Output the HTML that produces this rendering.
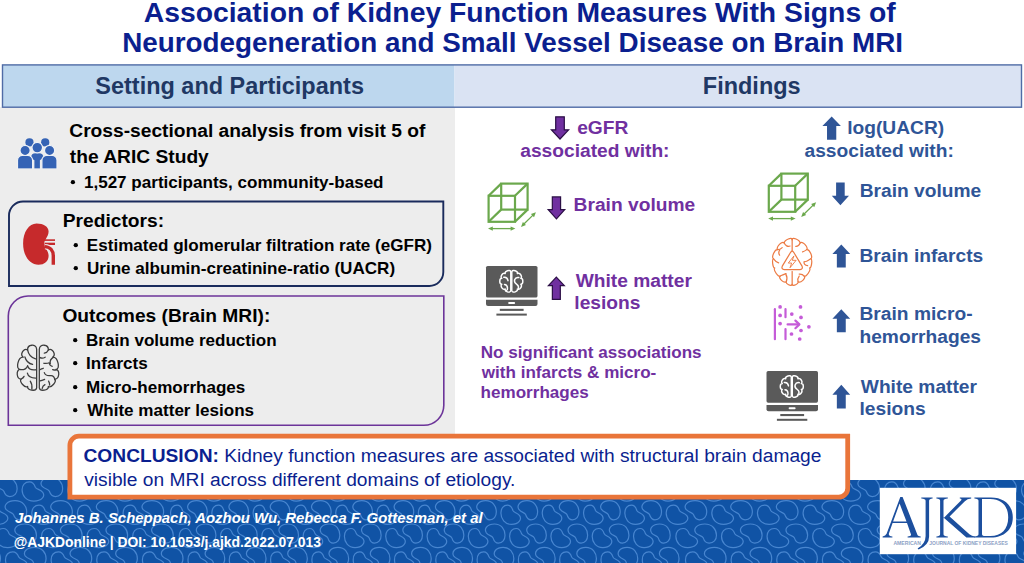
<!DOCTYPE html>
<html><head><meta charset="utf-8"><title>Visual abstract</title>
<style>
html,body{margin:0;padding:0;}
body{width:1024px;height:563px;position:relative;overflow:hidden;background:#fff;font-family:"Liberation Sans",sans-serif;}
.t{position:absolute;white-space:nowrap;line-height:1;font-family:"Liberation Sans",sans-serif;}
.box{position:absolute;box-sizing:border-box;}
#svg{position:absolute;left:0;top:0;}
</style></head><body>
<div class="box" style="left:0;top:107px;width:454.5px;height:373px;background:#ededed"></div>
<div class="box" style="left:0;top:480px;width:1024px;height:83px;background:#1053a5"></div>
<svg id="svg" width="1024" height="563" viewBox="0 0 1024 563">
<!-- footer pattern -->
<defs><path id="kb" d="M6.58,0.00 C10.05,0.00 11.20,2.66 12.01,5.31 C12.93,7.62 16.40,7.27 18.71,10.39 C21.25,14.20 17.78,19.17 10.62,19.17 C3.70,19.17 0.00,13.63 0.00,7.85 C0.00,3.23 2.54,0.00 6.58,0.00 Z" vector-effect="non-scaling-stroke"/><g id="kp"><use href="#kb"/><use href="#kb" transform="rotate(180 18.36 7.33)"/></g>
<clipPath id="fc"><rect x="0" y="480" width="1024" height="83"/></clipPath></defs>
<g clip-path="url(#fc)" fill="none" stroke="#4886d0" stroke-width="1.2">
<g transform="translate(31.8,0) scale(1.105,1)">
<use href="#kp" x="-50.0" y="481.9"/><use href="#kp" x="-8.8" y="481.9"/><use href="#kp" x="32.5" y="481.9"/><use href="#kp" x="73.8" y="481.9"/><use href="#kp" x="115.1" y="481.9"/>
<use href="#kp" x="-82.6" y="505.2"/><use href="#kp" x="-41.3" y="505.2"/><use href="#kp" x="0.0" y="505.2"/><use href="#kp" x="41.3" y="505.2"/><use href="#kp" x="82.6" y="505.2"/>
<use href="#kp" x="-73.8" y="528.5"/><use href="#kp" x="-32.5" y="528.5"/><use href="#kp" x="8.8" y="528.5"/><use href="#kp" x="50.0" y="528.5"/><use href="#kp" x="91.3" y="528.5"/>
<use href="#kp" x="-65.1" y="551.8"/><use href="#kp" x="-23.8" y="551.8"/><use href="#kp" x="17.5" y="551.8"/><use href="#kp" x="58.8" y="551.8"/><use href="#kp" x="100.1" y="551.8"/>
<use href="#kp" x="-56.3" y="575.1"/><use href="#kp" x="-15.0" y="575.1"/><use href="#kp" x="26.2" y="575.1"/><use href="#kp" x="67.5" y="575.1"/><use href="#kp" x="108.8" y="575.1"/>
</g>
<g transform="translate(5.3,0) scale(1.0,1)">
<use href="#kp" x="197.8" y="481.9"/><use href="#kp" x="239.0" y="481.9"/><use href="#kp" x="280.3" y="481.9"/><use href="#kp" x="321.6" y="481.9"/><use href="#kp" x="362.9" y="481.9"/><use href="#kp" x="404.2" y="481.9"/><use href="#kp" x="445.5" y="481.9"/><use href="#kp" x="486.8" y="481.9"/><use href="#kp" x="528.1" y="481.9"/><use href="#kp" x="569.4" y="481.9"/><use href="#kp" x="610.8" y="481.9"/><use href="#kp" x="652.0" y="481.9"/>
<use href="#kp" x="165.2" y="505.2"/><use href="#kp" x="206.5" y="505.2"/><use href="#kp" x="247.8" y="505.2"/><use href="#kp" x="289.1" y="505.2"/><use href="#kp" x="330.4" y="505.2"/><use href="#kp" x="371.7" y="505.2"/><use href="#kp" x="413.0" y="505.2"/><use href="#kp" x="454.3" y="505.2"/><use href="#kp" x="495.6" y="505.2"/><use href="#kp" x="536.9" y="505.2"/><use href="#kp" x="578.2" y="505.2"/><use href="#kp" x="619.5" y="505.2"/>
<use href="#kp" x="173.9" y="528.5"/><use href="#kp" x="215.2" y="528.5"/><use href="#kp" x="256.5" y="528.5"/><use href="#kp" x="297.8" y="528.5"/><use href="#kp" x="339.1" y="528.5"/><use href="#kp" x="380.4" y="528.5"/><use href="#kp" x="421.8" y="528.5"/><use href="#kp" x="463.0" y="528.5"/><use href="#kp" x="504.3" y="528.5"/><use href="#kp" x="545.6" y="528.5"/><use href="#kp" x="586.9" y="528.5"/><use href="#kp" x="628.2" y="528.5"/>
<use href="#kp" x="182.7" y="551.8"/><use href="#kp" x="224.0" y="551.8"/><use href="#kp" x="265.3" y="551.8"/><use href="#kp" x="306.6" y="551.8"/><use href="#kp" x="347.9" y="551.8"/><use href="#kp" x="389.2" y="551.8"/><use href="#kp" x="430.5" y="551.8"/><use href="#kp" x="471.8" y="551.8"/><use href="#kp" x="513.1" y="551.8"/><use href="#kp" x="554.4" y="551.8"/><use href="#kp" x="595.7" y="551.8"/><use href="#kp" x="637.0" y="551.8"/>
<use href="#kp" x="191.4" y="575.1"/><use href="#kp" x="232.8" y="575.1"/><use href="#kp" x="274.0" y="575.1"/><use href="#kp" x="315.3" y="575.1"/><use href="#kp" x="356.6" y="575.1"/><use href="#kp" x="397.9" y="575.1"/><use href="#kp" x="439.2" y="575.1"/><use href="#kp" x="480.5" y="575.1"/><use href="#kp" x="521.8" y="575.1"/><use href="#kp" x="563.1" y="575.1"/><use href="#kp" x="604.4" y="575.1"/><use href="#kp" x="645.8" y="575.1"/>
</g>
<g transform="translate(711.8,0) scale(1.105,1)">
<use href="#kp" x="-8.8" y="481.9"/><use href="#kp" x="32.5" y="481.9"/><use href="#kp" x="73.8" y="481.9"/><use href="#kp" x="115.1" y="481.9"/><use href="#kp" x="156.4" y="481.9"/><use href="#kp" x="197.8" y="481.9"/><use href="#kp" x="239.0" y="481.9"/><use href="#kp" x="280.3" y="481.9"/><use href="#kp" x="321.6" y="481.9"/>
<use href="#kp" x="-41.3" y="505.2"/><use href="#kp" x="0.0" y="505.2"/><use href="#kp" x="41.3" y="505.2"/><use href="#kp" x="82.6" y="505.2"/><use href="#kp" x="123.9" y="505.2"/><use href="#kp" x="165.2" y="505.2"/><use href="#kp" x="206.5" y="505.2"/><use href="#kp" x="247.8" y="505.2"/><use href="#kp" x="289.1" y="505.2"/><use href="#kp" x="330.4" y="505.2"/>
<use href="#kp" x="-32.5" y="528.5"/><use href="#kp" x="8.8" y="528.5"/><use href="#kp" x="50.0" y="528.5"/><use href="#kp" x="91.3" y="528.5"/><use href="#kp" x="132.6" y="528.5"/><use href="#kp" x="173.9" y="528.5"/><use href="#kp" x="215.2" y="528.5"/><use href="#kp" x="256.5" y="528.5"/><use href="#kp" x="297.8" y="528.5"/><use href="#kp" x="339.1" y="528.5"/>
<use href="#kp" x="-23.8" y="551.8"/><use href="#kp" x="17.5" y="551.8"/><use href="#kp" x="58.8" y="551.8"/><use href="#kp" x="100.1" y="551.8"/><use href="#kp" x="141.4" y="551.8"/><use href="#kp" x="182.7" y="551.8"/><use href="#kp" x="224.0" y="551.8"/><use href="#kp" x="265.3" y="551.8"/><use href="#kp" x="306.6" y="551.8"/><use href="#kp" x="347.9" y="551.8"/>
<use href="#kp" x="-15.0" y="575.1"/><use href="#kp" x="26.2" y="575.1"/><use href="#kp" x="67.5" y="575.1"/><use href="#kp" x="108.8" y="575.1"/><use href="#kp" x="150.1" y="575.1"/><use href="#kp" x="191.4" y="575.1"/><use href="#kp" x="232.8" y="575.1"/><use href="#kp" x="274.0" y="575.1"/><use href="#kp" x="315.3" y="575.1"/>
</g>
</g>
<!-- header bands -->
<rect x="2.5" y="64.9" width="452" height="42.3" fill="#bdd7ee"/>
<rect x="454.5" y="64.9" width="567" height="42.3" fill="#dae3f3"/>
<rect x="2.5" y="64.9" width="1019" height="42.3" fill="none" stroke="#4f6ba6" stroke-width="1.4"/>
<!-- predictors box -->
<path d="M23,201.5 H443.3 V272 A14,14 0 0 1 429.3,286 H9 V215.5 A14,14 0 0 1 23,201.5 Z" fill="none" stroke="#1a2b5c" stroke-width="1.9"/>
<!-- outcomes box -->
<path d="M28,296 H443.8 V405.3 A20,20 0 0 1 423.8,425.3 H8.3 V316 A20,20 0 0 1 28,296 Z" fill="none" stroke="#6c3499" stroke-width="1.6"/>
<!-- conclusion box -->
<path d="M78.9,436.2 H847.7 V488.2 A9,9 0 0 1 838.7,497.2 H69.9 V445.2 A9,9 0 0 1 78.9,436.2 Z" fill="#fff" stroke="#e9753a" stroke-width="4.8"/>
<!-- logo box -->
<rect x="879.8" y="487.8" width="136.3" height="66.4" fill="#fff"/>
<!-- arrows -->
<polygon points="560.00,139.00 568.60,129.79 564.30,129.79 564.30,116.80 555.70,116.80 555.70,129.79 551.40,129.79" fill="#7030a0" stroke="#2b0f45" stroke-width="1.2" stroke-linejoin="miter"/>
<polygon points="556.45,218.80 564.70,209.71 560.58,209.71 560.58,196.90 552.33,196.90 552.33,209.71 548.20,209.71" fill="#7030a0" stroke="#2b0f45" stroke-width="1.2" stroke-linejoin="miter"/>
<polygon points="556.35,277.20 564.30,285.64 560.32,285.64 560.32,299.40 552.37,299.40 552.37,285.64 548.40,285.64" fill="#7030a0" stroke="#2b0f45" stroke-width="1.2" stroke-linejoin="miter"/>
<polygon points="831.65,116.40 840.90,126.11 836.27,126.11 836.27,139.80 827.02,139.80 827.02,126.11 822.40,126.11" fill="#2f5597"/>
<polygon points="840.40,205.30 849.00,195.84 844.70,195.84 844.70,182.50 836.10,182.50 836.10,195.84 831.80,195.84" fill="#2f5597"/>
<polygon points="841.30,244.50 850.20,254.09 845.75,254.09 845.75,267.60 836.85,267.60 836.85,254.09 832.40,254.09" fill="#2f5597"/>
<polygon points="841.30,309.20 850.20,318.79 845.75,318.79 845.75,332.30 836.85,332.30 836.85,318.79 832.40,318.79" fill="#2f5597"/>
<polygon points="841.30,384.80 850.20,394.68 845.75,394.68 845.75,408.60 836.85,408.60 836.85,394.68 832.40,394.68" fill="#2f5597"/>
<!-- cubes -->
<g transform="translate(0,0)" fill="none" stroke="#6ba84c" stroke-width="2.2" stroke-linejoin="miter" stroke-linecap="butt">
<rect x="488.6" y="195.8" width="26.40" height="26.00"/>
<rect x="501.20000000000005" y="183.60000000000002" width="26.40" height="26.00"/>
<line x1="488.6" y1="195.8" x2="501.20000000000005" y2="183.60000000000002"/>
<line x1="515.0" y1="195.8" x2="527.6" y2="183.60000000000002"/>
<line x1="488.6" y1="221.8" x2="501.20000000000005" y2="209.60000000000002"/>
<line x1="515.0" y1="221.8" x2="527.6" y2="209.60000000000002"/>
<g stroke-width="1.3"><line x1="491.0" y1="228.6" x2="512.4" y2="228.6"/><polygon points="488.00,228.60 492.80,226.40 492.80,230.80" fill="#6ba84c" stroke="none"/><polygon points="515.40,228.60 510.60,230.80 510.60,226.40" fill="#6ba84c" stroke="none"/><line x1="523.14" y1="224.80" x2="533.76" y2="214.40"/><polygon points="521.00,226.90 522.89,221.97 525.97,225.11" fill="#6ba84c" stroke="none"/><polygon points="535.90,212.30 534.01,217.23 530.93,214.09" fill="#6ba84c" stroke="none"/></g></g>
<g transform="translate(280.2,-10.0)" fill="none" stroke="#6ba84c" stroke-width="2.2" stroke-linejoin="miter" stroke-linecap="butt">
<rect x="488.6" y="195.8" width="26.40" height="26.00"/>
<rect x="501.20000000000005" y="183.60000000000002" width="26.40" height="26.00"/>
<line x1="488.6" y1="195.8" x2="501.20000000000005" y2="183.60000000000002"/>
<line x1="515.0" y1="195.8" x2="527.6" y2="183.60000000000002"/>
<line x1="488.6" y1="221.8" x2="501.20000000000005" y2="209.60000000000002"/>
<line x1="515.0" y1="221.8" x2="527.6" y2="209.60000000000002"/>
<g stroke-width="1.3"><line x1="491.0" y1="228.6" x2="512.4" y2="228.6"/><polygon points="488.00,228.60 492.80,226.40 492.80,230.80" fill="#6ba84c" stroke="none"/><polygon points="515.40,228.60 510.60,230.80 510.60,226.40" fill="#6ba84c" stroke="none"/><line x1="523.14" y1="224.80" x2="533.76" y2="214.40"/><polygon points="521.00,226.90 522.89,221.97 525.97,225.11" fill="#6ba84c" stroke="none"/><polygon points="535.90,212.30 534.01,217.23 530.93,214.09" fill="#6ba84c" stroke="none"/></g></g>
<!-- outline brain -->
<g transform="translate(10,338) scale(0.10658)" fill="none" stroke="#3d3d3d" stroke-width="12" stroke-linecap="round" stroke-linejoin="round">
<path d="M250.0,105.0 C246.7,51.0 161.7,58.0 165.0,112.0 C129.0,88.0 89.0,156.0 125.0,180.0 C77.0,176.7 47.0,291.7 95.0,295.0 C52.3,297.7 62.3,387.7 105.0,385.0 C79.7,403.7 139.7,473.7 165.0,455.0 C159.0,491.7 244.0,504.7 250.0,468.0 Z"/>
<path d="M275.0,105.0 C278.3,51.0 363.3,58.0 360.0,112.0 C396.0,88.0 436.0,156.0 400.0,180.0 C448.0,176.7 478.0,291.7 430.0,295.0 C472.7,297.7 462.7,387.7 420.0,385.0 C445.3,403.7 385.3,473.7 360.0,455.0 C366.0,491.7 281.0,504.7 275.0,468.0 Z"/>
<path d="M165,112 C172,150 200,185 240,196"/>
<path d="M140,178 C150,215 175,240 212,248"/>
<path d="M95,297 C125,300 152,294 165,262"/>
<path d="M165,262 C175,290 205,302 240,298"/>
<path d="M163,330 C170,360 200,376 240,376"/>
<path d="M105,385 C115,380 126,372 132,360"/>
<path d="M190,405 C205,425 208,450 205,480"/>
<path d="M278,182 C295,192 315,190 330,180"/>
<path d="M318,237 C335,240 355,238 368,232 C370,250 380,262 396,266"/>
<path d="M280,298 C292,290 302,286 312,284"/>
<path d="M322,325 C330,350 360,356 385,352 C405,352 418,370 420,392"/>
<path d="M283,402 C298,398 312,394 325,388"/>
<path d="M302,472 C305,455 315,445 328,438"/>
<path d="M372,442 C372,425 368,415 362,405"/>
<path d="M438,300 C425,302 412,300 400,296"/>
<path d="M405,182 C385,195 372,215 378,240"/>
<path d="M360,112 C352,130 340,140 322,142"/>
</g>
<!-- monitors -->
<g transform="translate(0,0)">
<rect x="766.5" y="371.1" width="51.5" height="31.7" rx="1.7" fill="#5a5a5a"/>
<path d="M766.5,404.9 H818 V409.3 A2,2 0 0 1 816,411.3 H768.5 A2,2 0 0 1 766.5,409.3 Z" fill="#5a5a5a"/>
<rect x="788.6" y="407.3" width="7" height="2" rx="1" fill="#fff"/>
<rect x="780.3" y="414.0" width="23.8" height="2.1" fill="#5a5a5a"/>
<rect x="776.9" y="418.8" width="30.4" height="2.0" fill="#5a5a5a"/>
<g fill="none" stroke="#fff" stroke-width="1.45" stroke-linejoin="round" stroke-linecap="round">
<path d="M791.3,376.9 C790.5,374.4 784.9,376.2 785.7,378.8 C783.6,377.2 780.1,382.0 782.3,383.5 C779.6,383.5 779.6,389.5 782.3,389.5 C780.1,391.0 783.6,395.8 785.7,394.2 C784.9,396.8 790.5,398.6 791.3,396.1 Z"/><path d="M792.3,376.9 C793.1,374.4 798.7,376.2 797.9,378.8 C800.0,377.2 803.5,382.0 801.3,383.5 C804.0,383.5 804.0,389.5 801.3,389.5 C803.5,391.0 800.0,395.8 797.9,394.2 C798.7,396.8 793.1,398.6 792.3,396.1 Z"/>
<path d="M784.3,382.5 q3.5,-0.5 4.2,3.4"/><path d="M785.0,389.7 q2.8,0.2 3,3.6 q0.2,2 -1.2,2.6"/><path d="M799.3,382.7 q-3.2,-0.6 -4.2,2.2 q-0.8,2.6 2.2,4.6 q2.2,1.4 1.6,4.2"/></g></g>
<g transform="translate(-280.5,-105.2)">
<rect x="766.5" y="371.1" width="51.5" height="31.7" rx="1.7" fill="#5a5a5a"/>
<path d="M766.5,404.9 H818 V409.3 A2,2 0 0 1 816,411.3 H768.5 A2,2 0 0 1 766.5,409.3 Z" fill="#5a5a5a"/>
<rect x="788.6" y="407.3" width="7" height="2" rx="1" fill="#fff"/>
<rect x="780.3" y="414.0" width="23.8" height="2.1" fill="#5a5a5a"/>
<rect x="776.9" y="418.8" width="30.4" height="2.0" fill="#5a5a5a"/>
<g fill="none" stroke="#fff" stroke-width="1.45" stroke-linejoin="round" stroke-linecap="round">
<path d="M791.3,376.9 C790.5,374.4 784.9,376.2 785.7,378.8 C783.6,377.2 780.1,382.0 782.3,383.5 C779.6,383.5 779.6,389.5 782.3,389.5 C780.1,391.0 783.6,395.8 785.7,394.2 C784.9,396.8 790.5,398.6 791.3,396.1 Z"/><path d="M792.3,376.9 C793.1,374.4 798.7,376.2 797.9,378.8 C800.0,377.2 803.5,382.0 801.3,383.5 C804.0,383.5 804.0,389.5 801.3,389.5 C803.5,391.0 800.0,395.8 797.9,394.2 C798.7,396.8 793.1,398.6 792.3,396.1 Z"/>
<path d="M784.3,382.5 q3.5,-0.5 4.2,3.4"/><path d="M785.0,389.7 q2.8,0.2 3,3.6 q0.2,2 -1.2,2.6"/><path d="M799.3,382.7 q-3.2,-0.6 -4.2,2.2 q-0.8,2.6 2.2,4.6 q2.2,1.4 1.6,4.2"/></g></g>
<!-- infarct brain -->
<g transform="translate(762,232) scale(0.10658) translate(283,280) scale(0.955) translate(-283,-280)" fill="none" stroke="#ec7b44" stroke-width="12" stroke-linecap="round" stroke-linejoin="round">
<path d="M283.0,62.0 C284.3,30.7 206.3,63.7 205.0,95.0 C185.7,69.0 120.7,134.0 140.0,160.0 C113.3,150.7 73.3,240.7 100.0,250.0 C81.3,256.7 93.3,346.7 112.0,340.0 C94.0,356.0 147.0,436.0 165.0,420.0 C142.3,439.3 202.3,494.3 225.0,475.0 C217.0,497.0 275.0,524.0 283.0,502.0 "/><path d="M283.0,62.0 C281.7,30.7 359.7,63.7 361.0,95.0 C380.3,69.0 445.3,134.0 426.0,160.0 C452.7,150.7 492.7,240.7 466.0,250.0 C484.7,256.7 472.7,346.7 454.0,340.0 C472.0,356.0 419.0,436.0 401.0,420.0 C423.7,439.3 363.7,494.3 341.0,475.0 C349.0,497.0 291.0,524.0 283.0,502.0 "/>
<path d="M283,62 V170"/><path d="M283,375 V500"/>
<path d="M268,186 Q283,165 298,186 L380,322 Q392,352 360,356 L206,356 Q174,352 186,322 Z"/>
<path d="M298,225 L245,292 L278,292 L262,338 L322,265 L288,265 Z" stroke-width="9"/>
<path d="M205,95 C215,120 240,135 262,125"/>
<path d="M140,160 C160,160 175,150 185,140"/>
<path d="M160,165 C150,180 150,200 160,215"/>
<path d="M100,250 C115,270 130,285 150,290"/>
<path d="M165,420 C185,410 205,405 222,395"/>
<path d="M225,475 C235,450 232,420 220,398"/>
<path d="M361,95 C351,120 335,130 318,128"/>
<path d="M426,160 C406,175 395,180 385,182"/>
<path d="M466,250 C440,265 425,285 400,278 C395,300 410,315 435,318"/>
<path d="M401,420 C390,405 372,398 352,400"/>
<path d="M341,475 C335,455 340,435 352,420"/>
</g>
<!-- microhem -->
<g stroke="#c55cd8" stroke-width="2.2" stroke-linecap="round" fill="#c55cd8">
<line x1="774.9" y1="309.2" x2="774.9" y2="339.2"/>
<line x1="785.5" y1="309.0" x2="785.5" y2="317.2"/><line x1="785.5" y1="329.0" x2="785.5" y2="339.2"/>
<line x1="787.6" y1="324.4" x2="798.6" y2="324.4"/><polyline points="795.4,320.6 799.4,324.4 795.4,328.2" fill="none" stroke-linejoin="round"/>
<circle cx="780.1" cy="306.9" r="1.85" stroke="none"/>
<circle cx="780.1" cy="315.4" r="1.85" stroke="none"/>
<circle cx="780.1" cy="323.6" r="1.85" stroke="none"/>
<circle cx="800.5" cy="306.9" r="1.85" stroke="none"/>
<circle cx="791.8" cy="314.1" r="1.85" stroke="none"/>
<circle cx="801" cy="317.4" r="1.85" stroke="none"/>
<circle cx="808.9" cy="326.8" r="1.85" stroke="none"/>
<circle cx="801" cy="330.5" r="1.85" stroke="none"/>
<circle cx="791.5" cy="334.0" r="1.85" stroke="none"/>
<circle cx="799.7" cy="339.0" r="1.85" stroke="none"/>
</g>
<!-- people -->
<g fill="#3563b5" stroke="#eef1f6" stroke-width="1.2">
<circle cx="29.5" cy="142.4" r="4.1" stroke="none"/><circle cx="45.2" cy="142.4" r="4.1" stroke="none"/>
<path d="M34.4,168.6 V160.2 C33,159.2 31.2,158.8 31.0,157.6 A4.6,4.6 0 0 1 35.6,153.2 H38.9 A4.6,4.6 0 0 1 43.5,157.6 C43.3,158.8 41.2,159.2 39.9,160.2 V168.6 Z" stroke="none"/>
<circle cx="37.25" cy="147.6" r="5.3"/>
<path d="M17.5,169.2 V160.2 A4.8,4.8 0 0 1 22.3,155.4 H27.8 A4.8,4.8 0 0 1 32.6,160.2 V169.2 Z"/>
<path d="M41.9,169.2 V160.2 A4.8,4.8 0 0 1 46.7,155.4 H52.2 A4.8,4.8 0 0 1 57.0,160.2 V169.2 Z"/>
<circle cx="25.1" cy="150.4" r="5.1"/><circle cx="49.6" cy="150.4" r="5.1"/>
</g>
<rect x="16" y="168.7" width="43" height="2" fill="#ededed"/>
<!-- kidney -->
<g fill="#c62a2c">
<path d="M36.5,223.5 C29,223.5 23.1,232 23.1,243.5 C23.1,255.5 29.5,264.8 38.5,264.8 C44.5,264.8 48.6,261 48.6,256 C48.6,251 45.5,249 44.5,246 C43.8,243.5 44.2,241.5 45.6,239.5 C47,237 48.6,234.5 48.6,231.5 C48.6,226.5 43.5,223.5 36.5,223.5 Z"/>
<rect x="44.6" y="239.3" width="10.4" height="1.6"/><rect x="44.6" y="242.7" width="10.4" height="2.3"/>
<path d="M45.0,246.6 C50.4,246.8 53.3,250.6 53.3,256 V264.8" fill="none" stroke="#ededed" stroke-width="5.2"/>
<path d="M44.4,246.6 C50.4,246.8 53.3,250.6 53.3,256 V264.8" fill="none" stroke="#c62a2c" stroke-width="3.4"/>
</g>
<!-- AJKD logo -->
<g fill="#1c4f9e" stroke="none">
<!-- A -->
<path d="M900.3,497.0 L902.6,497.0 L917.6,535.2 Q918.2,536.3 920.7,536.4 V537.4 H907.6 V536.4 Q911.6,536.3 911.0,534.4 L907.0,523.0 H892.6 L888.9,533.6 Q888.2,536.2 892.4,536.4 V537.4 H882.6 V536.4 Q885.6,536.2 886.6,533.8 Z M899.6,503.6 L893.1,521.6 H906.5 Z"/>
<!-- J -->
<path d="M921.3,497.6 H932.6 V498.6 Q929.2,498.8 929.1,500.8 V536.5 Q929.1,545.0 918.6,549.6 L917.6,548.6 Q925.6,543.6 925.6,536.0 V500.8 Q925.5,498.8 921.3,498.6 Z"/>
<!-- K -->
<path d="M936.4,497.6 H947.8 V498.6 Q943.6,498.8 943.5,500.8 V518.2 L961.0,500.4 Q962.4,498.8 959.8,498.6 V497.6 H971.2 V498.6 Q967.4,498.9 964.6,501.4 L949.6,516.4 L969.4,534.2 Q971.8,536.2 975.0,536.4 V537.4 H966.4 L943.5,517.6 V534.2 Q943.6,536.2 947.8,536.4 V537.4 H936.4 V536.4 Q940.0,536.2 940.1,534.2 V500.8 Q940.0,498.8 936.4,498.6 Z"/>
<!-- D -->
<path d="M974.4,497.6 H991.0 C1004.0,497.6 1012.8,505.4 1012.8,517.4 C1012.8,529.6 1004.0,537.4 991.0,537.4 H974.4 V536.4 Q978.4,536.2 978.5,534.2 V500.8 Q978.4,498.8 974.4,498.6 Z M982.0,499.0 V534.0 Q982.0,536.0 985.0,536.0 H990.4 C1001.4,536.0 1008.2,529.0 1008.2,517.4 C1008.2,506.0 1001.4,499.0 990.4,499.0 Z" fill-rule="evenodd"/>
</g>
<text x="893.4" y="545.2" font-family="Liberation Sans, sans-serif" font-size="4.7" font-weight="bold" fill="#8da1c5" textLength="27.6" lengthAdjust="spacingAndGlyphs">AMERICAN</text>
<text x="929.3" y="545.2" font-family="Liberation Sans, sans-serif" font-size="4.7" font-weight="bold" fill="#8da1c5" textLength="78.5" lengthAdjust="spacingAndGlyphs">JOURNAL OF KIDNEY DISEASES</text>

<circle cx="72.9" cy="182.2" r="2.15" fill="#000"/><circle cx="75.8" cy="245.2" r="2.15" fill="#000"/><circle cx="75.8" cy="268.2" r="2.15" fill="#000"/><circle cx="75.2" cy="340.2" r="2.15" fill="#000"/><circle cx="75.2" cy="363.2" r="2.15" fill="#000"/><circle cx="75.2" cy="387.2" r="2.15" fill="#000"/><circle cx="75.2" cy="410.2" r="2.15" fill="#000"/>
</svg>
<div class="t" style="left:143.69px;top:-1.86px;font-size:28.33px;color:#0b1f8f;font-weight:bold;font-style:normal;">Association of Kidney Function Measures With Signs of</div>
<div class="t" style="left:122.14px;top:28.88px;font-size:27.84px;color:#0b1f8f;font-weight:bold;font-style:normal;">Neurodegeneration and Small Vessel Disease on Brain MRI</div>
<div class="t" style="left:95.32px;top:74.56px;font-size:23.47px;color:#1f3864;font-weight:bold;font-style:normal;">Setting and Participants</div>
<div class="t" style="left:702.83px;top:74.56px;font-size:23.47px;color:#1f3864;font-weight:bold;font-style:normal;">Findings</div>
<div class="t" style="left:69.31px;top:121.20px;font-size:19.20px;color:#000;font-weight:bold;font-style:normal;">Cross-sectional analysis from visit 5 of</div>
<div class="t" style="left:69.87px;top:147.20px;font-size:19.20px;color:#000;font-weight:bold;font-style:normal;">the ARIC Study</div>
<div class="t" style="left:83.92px;top:174.27px;font-size:17.07px;color:#000;font-weight:bold;font-style:normal;">1,527 participants, community-based</div>
<div class="t" style="left:62.72px;top:211.20px;font-size:19.20px;color:#000;font-weight:bold;font-style:normal;">Predictors:</div>
<div class="t" style="left:86.86px;top:237.27px;font-size:17.07px;color:#000;font-weight:bold;font-style:normal;">Estimated glomerular filtration rate (eGFR)</div>
<div class="t" style="left:86.97px;top:260.26px;font-size:17.07px;color:#000;font-weight:bold;font-style:normal;">Urine albumin-creatinine-ratio (UACR)</div>
<div class="t" style="left:62.41px;top:306.20px;font-size:19.20px;color:#000;font-weight:bold;font-style:normal;">Outcomes (Brain MRI):</div>
<div class="t" style="left:86.06px;top:332.26px;font-size:17.07px;color:#000;font-weight:bold;font-style:normal;">Brain volume reduction</div>
<div class="t" style="left:86.06px;top:355.26px;font-size:17.07px;color:#000;font-weight:bold;font-style:normal;">Infarcts</div>
<div class="t" style="left:86.06px;top:379.26px;font-size:17.07px;color:#000;font-weight:bold;font-style:normal;">Micro-hemorrhages</div>
<div class="t" style="left:87.18px;top:402.26px;font-size:17.07px;color:#000;font-weight:bold;font-style:normal;">White matter lesions</div>
<div class="t" style="left:577.15px;top:118.20px;font-size:19.20px;color:#7030a0;font-weight:bold;font-style:normal;">eGFR</div>
<div class="t" style="left:520.24px;top:141.20px;font-size:19.20px;color:#7030a0;font-weight:bold;font-style:normal;">associated with:</div>
<div class="t" style="left:573.62px;top:195.20px;font-size:19.20px;color:#7030a0;font-weight:bold;font-style:normal;">Brain volume</div>
<div class="t" style="left:575.68px;top:271.20px;font-size:19.20px;color:#7030a0;font-weight:bold;font-style:normal;">White matter</div>
<div class="t" style="left:574.36px;top:293.20px;font-size:19.20px;color:#7030a0;font-weight:bold;font-style:normal;">lesions</div>
<div class="t" style="left:480.66px;top:344.26px;font-size:17.07px;color:#7030a0;font-weight:bold;font-style:normal;">No significant associations</div>
<div class="t" style="left:481.85px;top:364.26px;font-size:17.07px;color:#7030a0;font-weight:bold;font-style:normal;">with infarcts &amp; micro-</div>
<div class="t" style="left:480.61px;top:384.26px;font-size:17.07px;color:#7030a0;font-weight:bold;font-style:normal;">hemorrhages</div>
<div class="t" style="left:847.16px;top:118.20px;font-size:19.20px;color:#2f5597;font-weight:bold;font-style:normal;">log(UACR)</div>
<div class="t" style="left:804.54px;top:141.20px;font-size:19.20px;color:#2f5597;font-weight:bold;font-style:normal;">associated with:</div>
<div class="t" style="left:859.72px;top:181.20px;font-size:19.20px;color:#2f5597;font-weight:bold;font-style:normal;">Brain volume</div>
<div class="t" style="left:859.52px;top:246.20px;font-size:19.20px;color:#2f5597;font-weight:bold;font-style:normal;">Brain infarcts</div>
<div class="t" style="left:859.52px;top:304.20px;font-size:19.20px;color:#2f5597;font-weight:bold;font-style:normal;">Brain micro-</div>
<div class="t" style="left:859.46px;top:327.20px;font-size:19.20px;color:#2f5597;font-weight:bold;font-style:normal;">hemorrhages</div>
<div class="t" style="left:860.78px;top:377.20px;font-size:19.20px;color:#2f5597;font-weight:bold;font-style:normal;">White matter</div>
<div class="t" style="left:859.46px;top:399.20px;font-size:19.20px;color:#2f5597;font-weight:bold;font-style:normal;">lesions</div>
<div class="t" style="left:83.51px;top:446.20px;font-size:19.20px;color:#0b1f8f;font-weight:normal;font-style:normal;"><b>CONCLUSION:</b> Kidney function measures are associated with structural brain damage</div>
<div class="t" style="left:84.23px;top:470.20px;font-size:19.20px;color:#0b1f8f;font-weight:normal;font-style:normal;">visible on MRI across different domains of etiology.</div>
<div class="t" style="left:15.02px;top:511.33px;font-size:14.93px;color:#fff;font-weight:bold;font-style:italic;">Johannes B. Scheppach, Aozhou Wu, Rebecca F. Gottesman, et al</div>
<div class="t" style="left:13.81px;top:536.37px;font-size:13.87px;color:#fff;font-weight:bold;font-style:normal;">@AJKDonline | DOI: 10.1053/j.ajkd.2022.07.013</div>
</body></html>
